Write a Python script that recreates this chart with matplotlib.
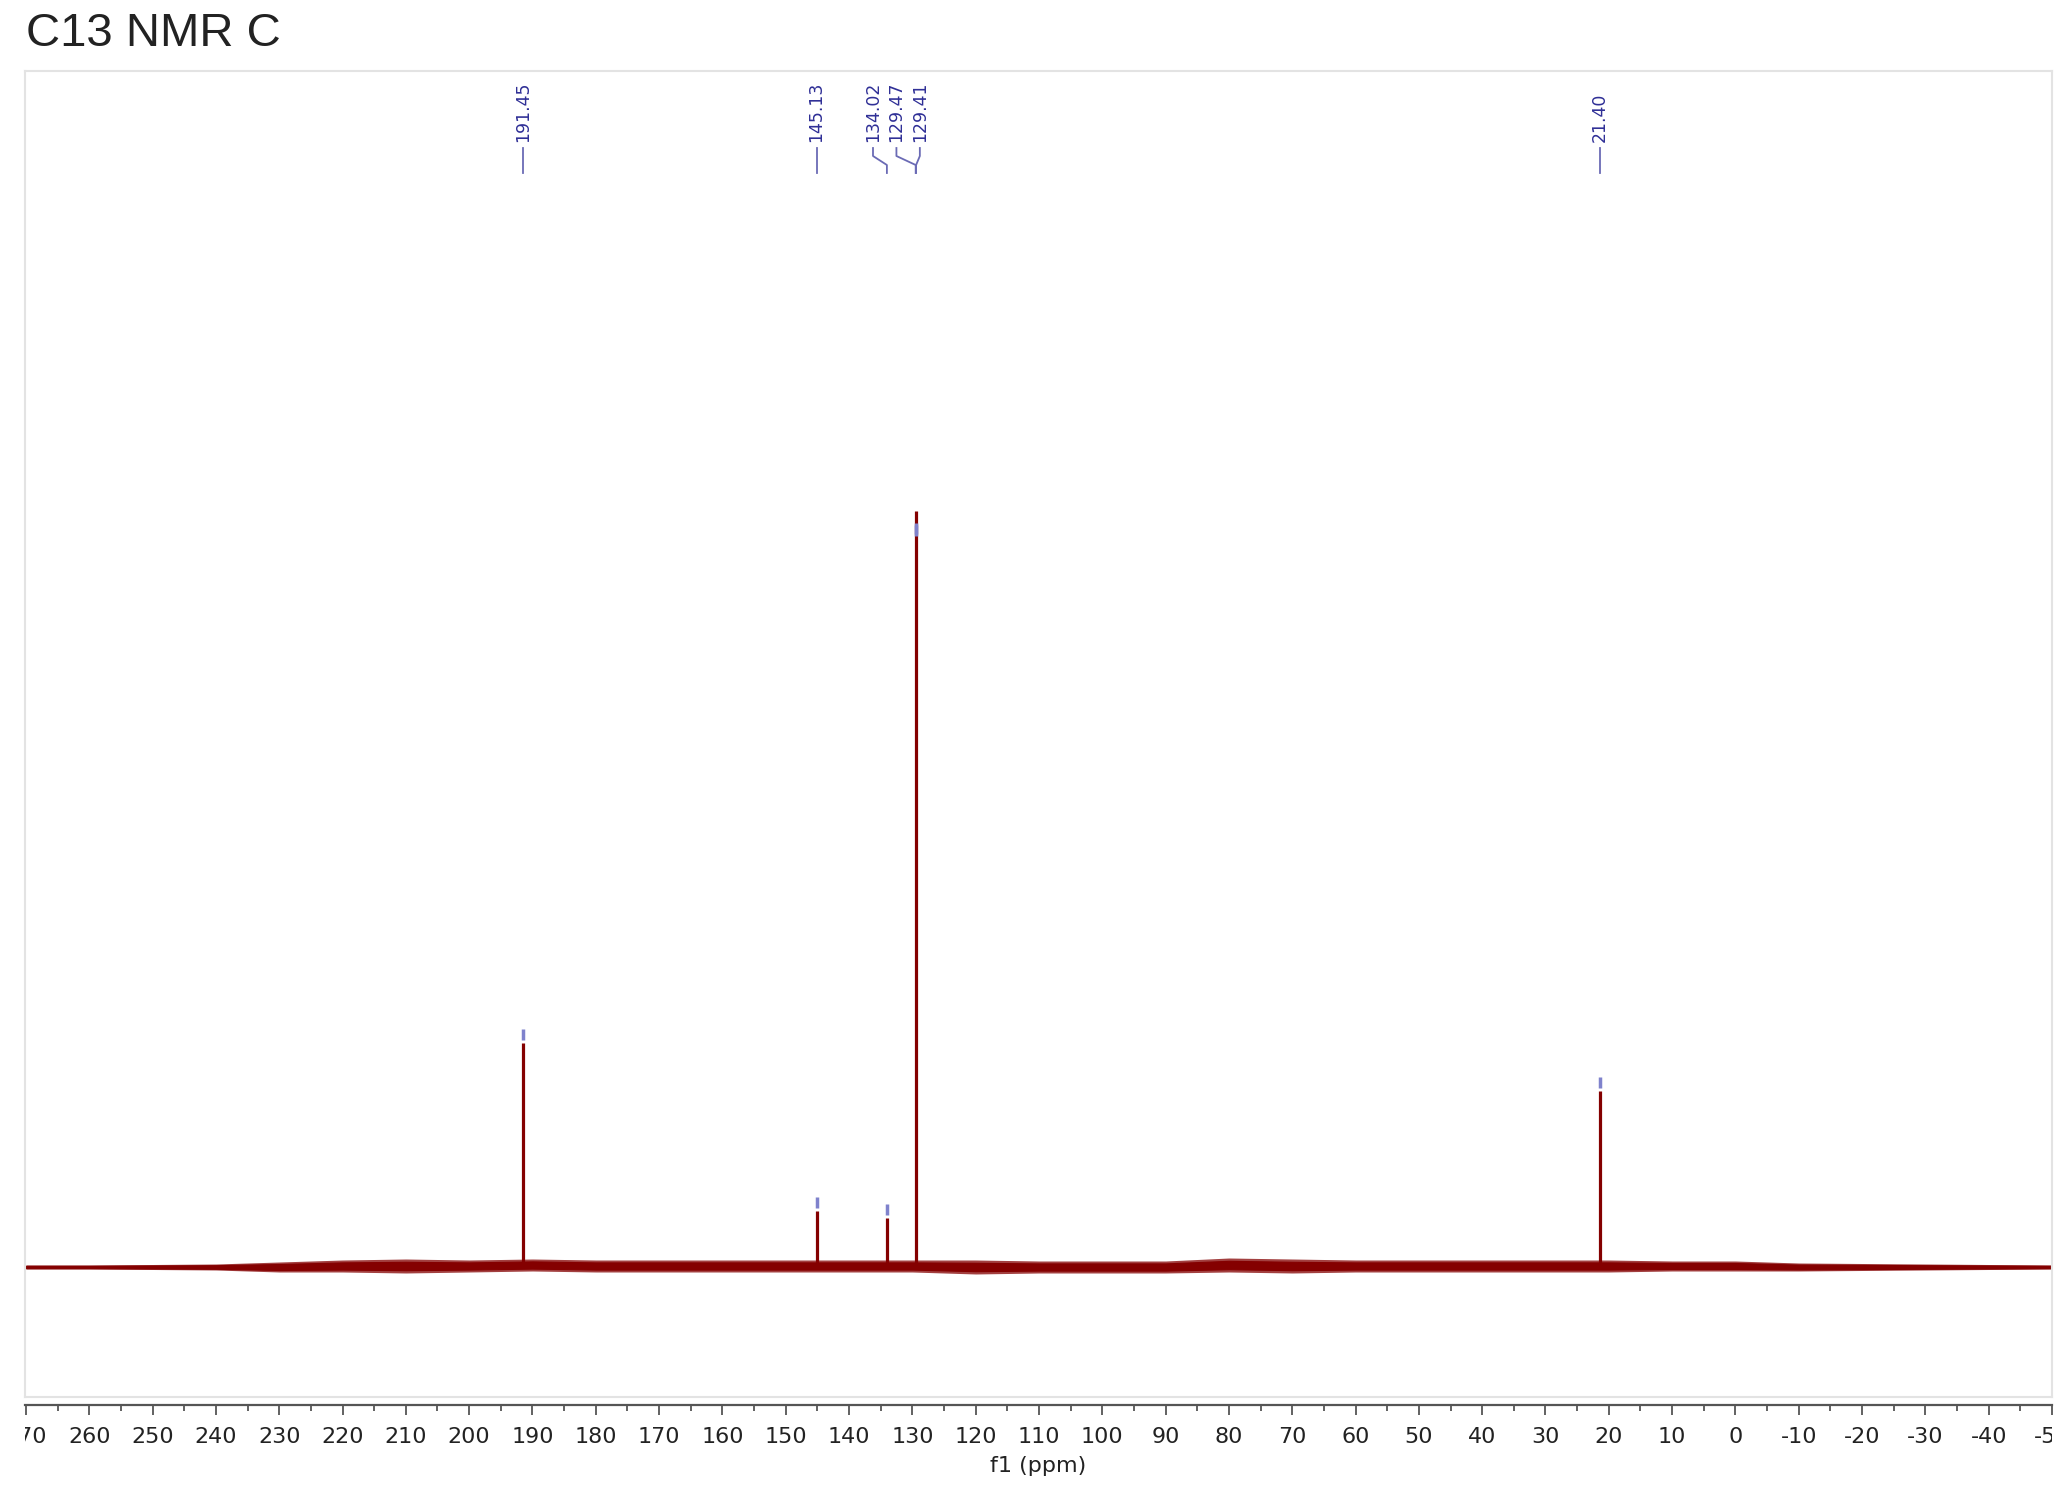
import numpy as np
import matplotlib.pyplot as plt
from matplotlib.transforms import blended_transform_factory, Bbox, TransformedBbox

plt.rcParams['axes.unicode_minus'] = False

title = "C13 NMR C"

# spectrum lines (ppm, height above baseline)
line_ppm = [191.45, 145.13, 134.02, 129.44, 21.40]
line_height = [224, 56, 49, 756, 176]

# picked peaks (ppm, intensity of the pick marker)
peak_ppm = [191.45, 145.13, 134.02, 129.47, 129.41, 21.40]
peak_height = [224, 56, 49, 730, 728, 176]
peak_labels = ["191.45", "145.13", "134.02", "129.47", "129.41", "21.40"]

# baseline noise band (every 10 ppm)
noise_ppm = [270, 260, 250, 240, 230, 220, 210, 200, 190, 180, 170, 160, 150, 140, 130, 120, 110,
             100, 90, 80, 70, 60, 50, 40, 30, 20, 10, 0, -10, -20, -30, -40, -50]
noise_half = [2, 2, 2.5, 3, 5, 6, 7, 6, 6, 6, 6, 6, 6, 6, 6, 7, 6,
              6, 6, 7, 7, 6, 6, 6, 6, 6, 5, 5, 4, 3.5, 3, 2.5, 2]
noise_offset = [0, 0, 0, 0, 0, 1, 1, 1, 2, 1, 1, 1, 1, 1, 1, 0, 0,
                0, 0, 2, 1, 1, 1, 1, 1, 1, 1, 1, 0, 0, 0, 0, 0]

tick_values = list(range(270, -51, -10))
tick_labels = [str(v) for v in tick_values]
minor_values = list(range(265, -46, -10))

W, H = 2058, 1491
red = "#840000"
blue_txt = "#2f2f96"
blue_line = "#6b6bb5"

fig = plt.figure(figsize=(W / 100, H / 100), dpi=100)
fig.text(26 / W, 1 - 34 / H, title, fontsize=34, family="Liberation Sans",
         color="#222222", ha="left", va="center")

left, right = 25 / W, 2052 / W
ax = fig.add_axes([left, (H - 1397) / H, right - left, (1397 - 71) / H])

off = np.array(noise_offset, dtype=float)
hw = np.array(noise_half, dtype=float)
ax.fill_between(noise_ppm, off - hw, off + hw, color=red, lw=0, alpha=0.75)
ax.fill_between(noise_ppm, off - 0.6 * hw, off + 0.6 * hw, color=red, lw=0.8)
ax.vlines(line_ppm, 0, line_height, color=red, lw=2.3)
ph = np.array(peak_height)
ax.vlines(peak_ppm, ph + 3, ph + 14, color="#7f82cc", lw=2.5, zorder=3)

ax.set_xlim(270.15, -50)
ax.set_ylim(-130, 1196)
ax.set_xticks([])
ax.set_yticks([])
for s in ax.spines.values():
    s.set_color("#e3e3e3")
    s.set_linewidth(1.5)

# peak labels at the top, spread out where they would collide
gap = 3.7
order = sorted(range(len(peak_ppm)), key=lambda i: -peak_ppm[i])


def place(g):
    c = (peak_ppm[g[0]] + peak_ppm[g[-1]]) / 2 + (0.8 if len(g) > 1 else 0)
    return [c + gap * ((len(g) - 1) / 2 - j) for j in range(len(g))]


groups = [[i] for i in order]
merged = True
while merged:
    merged = False
    for k in range(len(groups) - 1):
        if place(groups[k])[-1] - place(groups[k + 1])[0] < gap:
            groups[k] = groups[k] + groups.pop(k + 1)
            merged = True
            break
label_x = {}
for g in groups:
    for i, x in zip(g, place(g)):
        label_x[i] = x

trans = blended_transform_factory(ax.transData, ax.transAxes)
y_bot = (1397 - 173) / 1326
y_m1 = (1397 - 165) / 1326
y_m2 = (1397 - 156) / 1326
y_top = (1397 - 148) / 1326
y_txt = (1397 - 142) / 1326
for i, p in enumerate(peak_ppm):
    lx = label_x[i]
    ax.plot([lx, lx, p, p], [y_top, y_m2, y_m1, y_bot], transform=trans,
            color=blue_line, lw=1.3, clip_on=False)
    ax.text(lx, y_txt, peak_labels[i], transform=trans, rotation=90,
            ha="center", va="bottom", fontsize=12.5, color=blue_txt)

# ppm axis drawn just below the frame
ax2 = fig.add_axes([left, (H - 1405) / H, right - left, 0.0001])
ax2.set_xlim(270.15, -50)
ax2.set_yticks([])
ax2.patch.set_visible(False)
for k in ["top", "left", "right"]:
    ax2.spines[k].set_visible(False)
ax2.spines["bottom"].set_color("#555555")
ax2.spines["bottom"].set_linewidth(1.6)
ax2.set_xticks(tick_values)
ax2.set_xticklabels(tick_labels)
ax2.set_xticks(minor_values, minor=True)
ax2.tick_params(axis="x", which="major", direction="out", length=7, width=1.3,
                color="#555555", labelsize=16, labelcolor="#222222", pad=9)
ax2.tick_params(axis="x", which="minor", direction="out", length=4, width=1.3, color="#555555")
ax2.set_xlabel("f1 (ppm)", fontsize=16, color="#222222", labelpad=6)

fig.canvas.draw()
clip = TransformedBbox(Bbox([[left, 0], [right, 1]]), fig.transFigure)
for lab in ax2.get_xticklabels():
    lab.set_clip_box(clip)
    lab.set_clip_on(True)

fig.savefig("out.png", dpi=100, facecolor="white")
